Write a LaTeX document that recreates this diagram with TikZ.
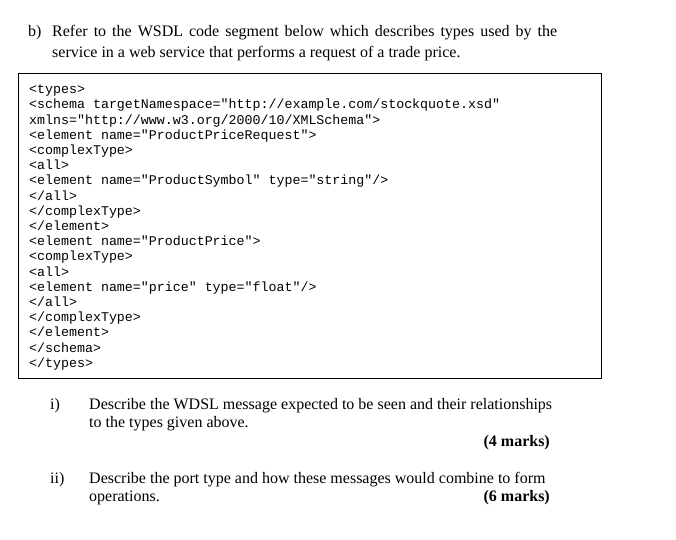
\documentclass[tikz,border=0pt]{standalone}
\usepackage{fontspec}
\setmainfont{Liberation Serif}
\setmonofont{Liberation Mono}
\begin{document}
\begin{tikzpicture}[x=1pt,y=-1pt,
  txt/.style={anchor=base west,inner sep=0pt,font=\fontsize{16}{18}\selectfont},
  code/.style={anchor=base west,inner sep=0pt,font=\ttfamily\fontsize{13.3}{15}\selectfont}]
\useasboundingbox[fill=white] (0,0) rectangle (676,539);
\node[txt] (b) at (28,36) {b)};
\node[txt] (l1) at (52,36) {\makebox[505pt][s]{Refer to the WSDL code segment below which describes types used by the}};
\node[txt] (l2) at (52,57) {service in a web service that performs a request of a trade price.};
\draw[line width=0.8pt] (18,73) rectangle (601,378);
\foreach \t [count=\i] in {
{<types>},
{<schema targetNamespace="http://example.com/stockquote.xsd"},
{xmlns="http://www.w3.org/2000/10/XMLSchema">},
{<element name="ProductPriceRequest">},
{<complexType>},
{<all>},
{<element name="ProductSymbol" type="string"/>},
{</all>},
{</complexType>},
{</element>},
{<element name="ProductPrice">},
{<complexType>},
{<all>},
{<element name="price" type="float"/>},
{</all>},
{</complexType>},
{</element>},
{</schema>},
{</types>}}
  \node[code] (c\i) at (29,{78.5+15.2*\i}) {\t};
\node[txt] (i) at (50,409) {i)};
\node[txt] (i1) at (89,409) {Describe the WDSL message expected to be seen and their relationships};
\node[txt] (i2) at (89,427) {to the types given above.};
\node[txt,anchor=base east] (m4) at (550,446) {\textbf{(4 marks)}};
\node[txt] (ii) at (50,483) {ii)};
\node[txt] (ii1) at (89,483) {Describe the port type and how these messages would combine to form};
\node[txt] (ii2) at (89,501) {operations.};
\node[txt,anchor=base east] (m6) at (550,501) {\textbf{(6 marks)}};
\end{tikzpicture}
\end{document}
